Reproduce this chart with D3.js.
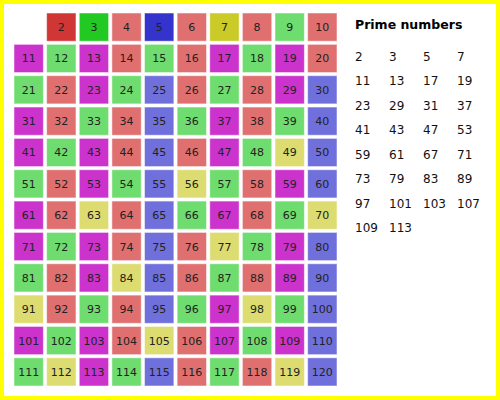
<!DOCTYPE html><html><head><script src="https://cdn.jsdelivr.net/npm/d3@7"></script>
<style>body{margin:0}svg{display:block}</style></head><body><script>
const numbers = d3.range(2, 121);
const sievePrimes = [2, 3, 5, 7];
const primeList = numbers.filter(n => d3.range(2, n).every(d => n % d));
const W = 500, H = 400;
const svg = d3.select("body").append("svg").attr("width", W).attr("height", H);
svg.append("rect").attr("x", 2).attr("y", 2).attr("width", W - 4).attr("height", H - 4)
  .attr("fill", "#fff").attr("stroke", "#ffff00").attr("stroke-width", 4);
const x = d3.scaleBand().domain(d3.range(10)).range([14, 337]).paddingInner(0.1);
const y = d3.scaleBand().domain(d3.range(12)).range([13, 386]).paddingInner(0.1);
function colorOf(n) {
  if (n === 2) return "#d13636"; if (n === 3) return "#22c922";
  if (n === 5) return "#3434cc"; if (n === 7) return "#caca28";
  let p = null;
  sievePrimes.forEach(q => { if (n % q === 0 && n >= q * q) p = q; });
  return p === 2 ? "#e07070" : p === 3 ? "#6edc6e" : p === 5 ? "#7070dd" : p === 7 ? "#dcdc70" : "#cc33cc";
}
const g = svg.selectAll("g.c").data(numbers).join("g")
  .attr("transform", n => `translate(${x((n - 1) % 10)},${y(Math.floor((n - 1) / 10))})`);
g.append("rect").attr("width", x.bandwidth()).attr("height", y.bandwidth())
  .attr("fill", colorOf).attr("stroke", "rgba(255,255,255,0.5)");
g.append("text").attr("x", x.bandwidth() / 2).attr("y", y.bandwidth() / 2 + 4)
  .attr("text-anchor", "middle").attr("font-family", "DejaVu Sans").attr("font-size", 11)
  .attr("fill", "#222").text(n => n);
svg.append("text").attr("x", 355).attr("y", 29).attr("font-family", "DejaVu Sans")
  .attr("font-weight", "bold").attr("font-size", 12.5).text("Prime numbers");
const lx = d3.scaleLinear().domain([0, 3]).range([355, 457]);
const ly = d3.scaleLinear().domain([0, 7]).range([61, 232]);
svg.selectAll("text.p").data(primeList).join("text")
  .attr("x", (d, i) => lx(i % 4)).attr("y", (d, i) => ly(Math.floor(i / 4)))
  .attr("font-family", "DejaVu Sans").attr("font-size", 12).attr("fill", "#111").text(d => d);
</script></body></html>
